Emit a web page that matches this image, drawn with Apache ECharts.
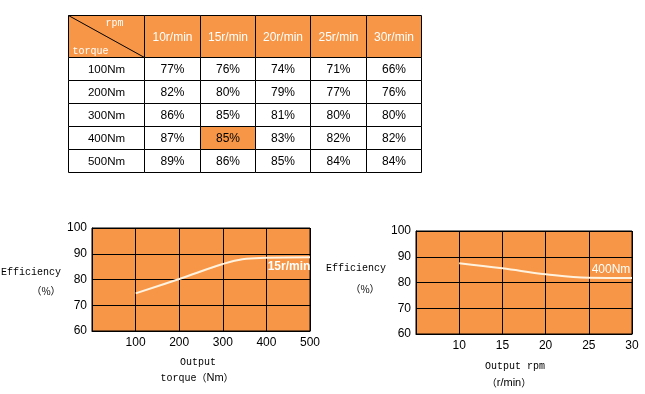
<!DOCTYPE html>
<html><head><meta charset="utf-8">
<script src="https://cdn.jsdelivr.net/npm/echarts@6/dist/echarts.min.js"></script>
<style>html,body{margin:0;padding:0;background:#fff}#c{width:645px;height:394px}</style>
</head><body><div id="c"></div>
<script>
// ---- data ----
var rpmCats = ['10r/min', '15r/min', '20r/min', '25r/min', '30r/min'];
var torqueCats = ['100Nm', '200Nm', '300Nm', '400Nm', '500Nm'];
var effRow100 = [77, 76, 74, 71, 66];
var effRow200 = [82, 80, 79, 77, 76];
var effRow300 = [86, 85, 81, 80, 80];
var effRow400 = [87, 85, 83, 82, 82];
var effRow500 = [89, 86, 85, 84, 84];
var effTable = [effRow100, effRow200, effRow300, effRow400, effRow500];
var highlightCell = [1, 3]; // [col, row]
var torqueCurve = [[100, 74.6], [200, 80.2], [300, 86.0], [345, 87.9], [400, 88.4], [500, 88.6]];
var rpmCurve = [[10, 87.5], [15, 85.5], [20, 83.2], [25, 81.8], [30, 81.7]];
var effTicks = [60, 70, 80, 90, 100];

var ORANGE = '#F79646';
var SANS = '"Liberation Sans", Arial, sans-serif';
var chart = echarts.init(document.getElementById('c'), null, {renderer: 'canvas'});

var cells = [];
for (var r = -1; r < torqueCats.length; r++) {
  for (var c = -1; c < rpmCats.length; c++) cells.push([c, r]);
}
var X_HEAD = -76 / 55, Y_HEAD = -42 / 23;
function px(v) { return Math.round(v) + 0.5; }

function renderCell(params, api) {
  var c = api.value(0), r = api.value(1);
  var x0 = c < 0 ? X_HEAD : c, x1 = c < 0 ? 0 : c + 1;
  var y0 = r < 0 ? Y_HEAD : r, y1 = r < 0 ? 0 : r + 1;
  var p0 = api.coord([x0, y0]), p1 = api.coord([x1, y1]);
  var X0 = px(p0[0]), Y0 = px(p0[1]), X1 = px(p1[0]), Y1 = px(p1[1]);
  var isHead = r < 0;
  var isHl = c === highlightCell[0] && r === highlightCell[1];
  var fill = (isHead || isHl) ? ORANGE : '#fff';
  var children = [{type: 'rect', shape: {x: X0, y: Y0, width: X1 - X0, height: Y1 - Y0},
    style: {fill: fill, stroke: '#000', lineWidth: 1}}];
  var cx = (X0 + X1) / 2, cy = (Y0 + Y1) / 2;
  if (r < 0 && c < 0) {
    children.push({type: 'line', shape: {x1: X0, y1: Y0, x2: X1, y2: Y1}, style: {stroke: '#000', lineWidth: 1}});
    children.push({type: 'text', style: {text: 'rpm', x: X1 - 30, y: Y0 + 8, align: 'center', verticalAlign: 'middle',
      font: '10px "Liberation Mono"', fill: '#fff'}});
    children.push({type: 'text', style: {text: 'torque', x: X0 + 4, y: Y1 - 6, align: 'left', verticalAlign: 'middle',
      font: '10px "Liberation Mono"', fill: '#fff'}});
  } else {
    var txt, col = '#000', f = '12px ' + SANS;
    if (r < 0) { txt = rpmCats[c]; col = '#fff'; }
    else if (c < 0) { txt = torqueCats[r]; f = '11.5px ' + SANS; }
    else { txt = effTable[r][c] + '%'; }
    children.push({type: 'text', style: {text: txt, x: cx, y: cy + 1, align: 'center', verticalAlign: 'middle',
      font: f, fill: col}});
  }
  return {type: 'group', children: children};
}

var axisCommon = {
  axisLine: {lineStyle: {color: '#000', width: 1}},
  axisTick: {show: false},
  splitLine: {show: true, lineStyle: {color: '#000', width: 1}},
  axisLabel: {color: '#000', fontSize: 12, fontFamily: SANS}
};
function merge(a, b) { return Object.assign({}, a, b); }

var richStyles = {
  m: {fontFamily: '"Liberation Mono", monospace', fontSize: 10, fill: '#000', color: '#000'},
  p: {fontFamily: '"Noto Sans CJK SC"', fontSize: 10, fill: '#000', color: '#000'},
  s: {fontFamily: SANS, fontSize: 11, fill: '#000', color: '#000'}
};
function t(text, x, y, align, font, fill) {
  return {type: 'text', style: {text: text, x: x, y: y, align: align || 'center', verticalAlign: 'middle',
    font: font || '10px "Liberation Mono", monospace', fill: fill || '#000', rich: richStyles}};
}

chart.setOption({
  animation: false,
  grid: [
    {left: 68, top: 15, width: 353, height: 157, show: false},
    {left: 92, top: 228, width: 218, height: 103, show: true, backgroundColor: ORANGE, borderColor: '#000', borderWidth: 1},
    {left: 416, top: 231, width: 216, height: 103, show: true, backgroundColor: ORANGE, borderColor: '#000', borderWidth: 1}
  ],
  xAxis: [
    {type: 'value', gridIndex: 0, min: X_HEAD, max: rpmCats.length, show: false},
    merge(axisCommon, {type: 'value', gridIndex: 1, min: 0, max: 500, interval: 100,
      axisLabel: merge(axisCommon.axisLabel, {showMinLabel: false, margin: 6})}),
    merge(axisCommon, {type: 'value', gridIndex: 2, min: 5, max: 30, interval: 5,
      axisLabel: merge(axisCommon.axisLabel, {showMinLabel: false, margin: 6})})
  ],
  yAxis: [
    {type: 'value', gridIndex: 0, min: Y_HEAD, max: torqueCats.length, inverse: true, show: false},
    merge(axisCommon, {type: 'value', gridIndex: 1, min: effTicks[0], max: effTicks[effTicks.length - 1], interval: 10,
      axisLabel: merge(axisCommon.axisLabel, {margin: 5})}),
    merge(axisCommon, {type: 'value', gridIndex: 2, min: effTicks[0], max: effTicks[effTicks.length - 1], interval: 10,
      axisLabel: merge(axisCommon.axisLabel, {margin: 5})})
  ],
  series: [
    {type: 'custom', xAxisIndex: 0, yAxisIndex: 0, data: cells, renderItem: renderCell, clip: false, silent: true},
    {type: 'line', xAxisIndex: 1, yAxisIndex: 1, data: torqueCurve, smooth: 0.4, showSymbol: false,
      lineStyle: {color: '#FFF3E0', width: 2}},
    {type: 'line', xAxisIndex: 2, yAxisIndex: 2, data: rpmCurve, smooth: 0.4, showSymbol: false,
      lineStyle: {color: '#FFF3E0', width: 2}}
  ],
  graphic: [
    t('15r/min', 289, 267, 'center', 'bold 12px ' + SANS, '#fff'),
    t('400Nm', 611, 270, 'center', '12px ' + SANS, '#fff'),
    t('Efficiency', 31, 272),
    t('{p|（%）}', 46, 291),
    t('Output', 198, 362),
    t('{m|torque}{p|（}{s|Nm}{p|）}', 197, 378),
    t('Efficiency', 356, 268),
    t('{p|（%）}', 365, 289),
    t('Output rpm', 515, 366),
    t('{p|（}{s|r/min}{p|）}', 509, 383)
  ]
});
</script></body></html>
